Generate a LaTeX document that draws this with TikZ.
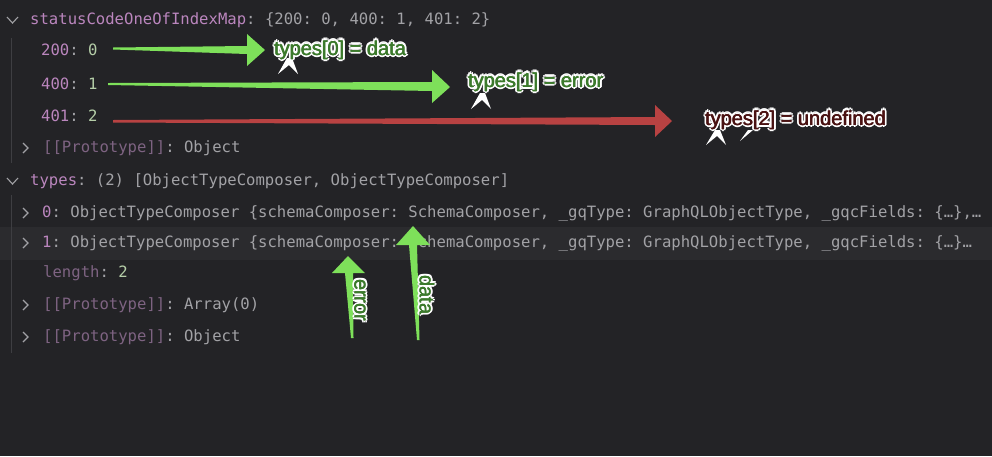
\documentclass[tikz,border=0pt]{standalone}
\usepackage{fontspec}
\setmainfont{Liberation Sans}
\setmonofont{DejaVu Sans Mono}
\definecolor{bg}{HTML}{232326}
\definecolor{hl}{HTML}{2B2B2E}
\definecolor{keyc}{HTML}{BB86BE}
\definecolor{dimk}{HTML}{7E6382}
\definecolor{txt}{HTML}{A2A2A6}
\definecolor{num}{HTML}{B5CEA8}
\definecolor{guide}{HTML}{3E3E42}
\definecolor{garrow}{HTML}{7EE05A}
\definecolor{rarrow}{HTML}{B84242}
\definecolor{glab}{HTML}{3C7A2C}
\definecolor{rlab}{HTML}{4A1212}
\tikzset{
  code/.style={anchor=west,inner sep=0pt,font=\ttfamily\fontsize{15.6}{18}\selectfont,text=txt},
  chev/.style={draw=txt,line width=1.1pt},
  lab/.style={anchor=west,inner sep=0pt,font=\fontsize{20}{22}\selectfont},
}
\newcommand\halo[6]{% x, y, name, color, text, rotate
  \foreach \dx/\dy in {-2.2/0,2.2/0,0/-2.2,0/2.2,-1.6/-1.6,1.6/1.6,-1.6/1.6,1.6/-1.6}
    \node[lab,text=white,rotate=#6] at (#1+\dx,#2+\dy) {#5};
  \foreach \dx in {-0.3,0.3}
    \node[lab,text=#4,rotate=#6] at (#1+\dx,#2) {#5};
  \node[lab,text=#4,rotate=#6] (#3) at (#1,#2) {#5};}
\begin{document}
\begin{tikzpicture}[x=1pt,y=-1pt]
\fill[bg] (0,0) rectangle (992,456);
\useasboundingbox (0,0) rectangle (992,456);
\fill[hl] (0,227) rectangle (992,260);
% guides
\draw[guide,line width=1pt] (11,38) -- (11,163) (11,195) -- (11,353);
% chevrons
\draw[chev] (7,17) -- (12.5,23) -- (18,17);
\draw[chev] (7,178) -- (12.5,184) -- (18,178);
\foreach \y in {148,213,243,305,337} \draw[chev] (23,\y-5) -- (28,\y) -- (23,\y+5);
% code text
\node[code] (r1) at (30,20) {\color{keyc}statusCodeOneOfIndexMap\color{txt}: \{200: 0, 400: 1, 401: 2\}};
\node[code] (r2) at (41,50) {\color{keyc}200\color{txt}: \color{num}0};
\node[code] (r3) at (41,84) {\color{keyc}400\color{txt}: \color{num}1};
\node[code] (r4) at (41,116) {\color{keyc}401\color{txt}: \color{num}2};
\node[code] (r5) at (43,148) {\color{dimk}[[Prototype]]\color{txt}: Object};
\node[code] (r6) at (30,181) {\color{keyc}types\color{txt}: (2) [ObjectTypeComposer, ObjectTypeComposer]};
\node[code] (r7) at (42,213) {\color{keyc}0\color{txt}: ObjectTypeComposer \{schemaComposer: SchemaComposer, \_gqType: GraphQLObjectType, \_gqcFields: \{…\},…};
\node[code] (r8) at (42,243) {\color{keyc}1\color{txt}: ObjectTypeComposer \{schemaComposer: SchemaComposer, \_gqType: GraphQLObjectType, \_gqcFields: \{…\}…};
\node[code] (r9) at (43,273) {\color{dimk}length\color{txt}: \color{num}2};
\node[code] (r10) at (43,305) {\color{dimk}[[Prototype]]\color{txt}: Array(0)};
\node[code] (r11) at (43,337) {\color{dimk}[[Prototype]]\color{txt}: Object};
% arrows
\fill[garrow] (113,47.5) -- (247,46) -- (247,34) -- (265,50) -- (247,66) -- (247,54) -- (113,49.5) -- cycle;
\fill[garrow] (108,83) -- (432,82) -- (432,70) -- (450,87) -- (432,103) -- (432,91) -- (108,85) -- cycle;
\fill[rarrow] (113,120) -- (655,117) -- (655,105) -- (672,121) -- (655,137) -- (655,125) -- (113,122.5) -- cycle;
\fill[garrow] (351,338) -- (345,273) -- (332,273) -- (348,256) -- (365,273) -- (353,273) -- (353.5,338) -- cycle;
\fill[garrow] (417,340) -- (409,245) -- (396,245) -- (413,226) -- (430,245) -- (417,245) -- (419.5,340) -- cycle;
% label spikes
\fill[white] (278,74) -- (287,58) -- (292,58) -- (298,74) -- (289,65) -- cycle;
\fill[white] (471,109) -- (480,93) -- (485,93) -- (491,109) -- (482,100) -- cycle;
\fill[white] (706,145) -- (715,130) -- (720,130) -- (726,145) -- (717,136) -- cycle;
\fill[white] (740,141) -- (748,130) -- (753,130) -- cycle;
% labels
\halo{274}{50}{l1}{glab}{types[0] = data}{0}
\halo{468}{82}{l2}{glab}{types[1] = error}{0}
\halo{705}{120}{l3}{rlab}{types[2] = undefined}{0}
\halo{360}{279}{l4}{glab}{error}{-90}
\halo{427}{275}{l5}{glab}{data}{-90}
\end{tikzpicture}
\end{document}
